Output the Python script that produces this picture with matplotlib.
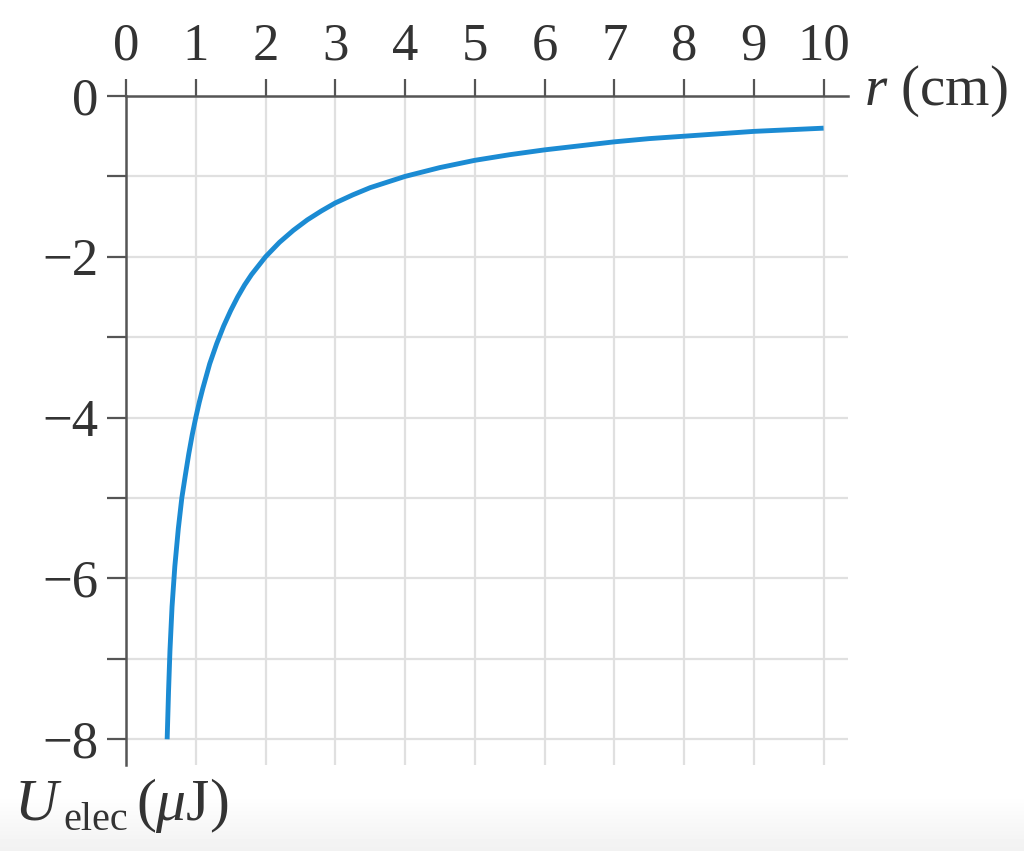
import numpy as np
import matplotlib
matplotlib.use("Agg")
import matplotlib.pyplot as plt

# Data
r_cm = [0.59, 0.61, 0.63, 0.66, 0.70, 0.75, 0.80, 0.85, 0.90, 0.95, 1.00, 1.05, 1.10,
        1.20, 1.30, 1.40, 1.50, 1.60, 1.70, 1.80, 1.90, 2.00, 2.20, 2.40, 2.60, 2.80,
        3.00, 3.25, 3.50, 3.75, 4.00, 4.50, 5.00, 5.50, 6.00, 6.50, 7.00, 7.50, 8.00,
        8.50, 9.00, 9.50, 10.00]
u_elec = [-8.00, -7.40, -6.90, -6.35, -5.85, -5.38, -5.00, -4.72, -4.45, -4.21, -4.00, -3.81, -3.64,
          -3.33, -3.08, -2.86, -2.67, -2.50, -2.35, -2.22, -2.11, -2.00, -1.82, -1.67, -1.54, -1.43,
          -1.33, -1.23, -1.14, -1.07, -1.00, -0.89, -0.80, -0.73, -0.67, -0.62, -0.57, -0.53, -0.50,
          -0.47, -0.44, -0.42, -0.40]
x_ticks = [0, 1, 2, 3, 4, 5, 6, 7, 8, 9, 10]
y_ticks = [0, -1, -2, -3, -4, -5, -6, -7, -8]
y_labels = ["0", "", "\u22122", "", "\u22124", "", "\u22126", "", "\u22128"]

plt.rcParams['font.family'] = ['Liberation Serif', 'DejaVu Serif']
plt.rcParams['mathtext.fontset'] = 'custom'
plt.rcParams['mathtext.rm'] = 'Liberation Serif'
plt.rcParams['mathtext.it'] = 'Liberation Serif:italic'

W, H = 1024, 851
fig = plt.figure(figsize=(W / 100, H / 100), dpi=100)

# bottom gray gradient band
bg = fig.add_axes([0, 0, 1, 1], zorder=-10)
grad = np.ones((H, 1))
start = 795
for i in range(start, H):
    t = (i - start) / (H - start)
    grad[i, 0] = 1.0 - 0.055 * t
bg.imshow(grad, aspect='auto', cmap='gray', vmin=0, vmax=1, extent=[0, 1, 0, 1], origin='upper')
bg.axis('off')

left, right, top, bottom = 126, 848, 96, 765
ax = fig.add_axes([left / W, 1 - bottom / H, (right - left) / W, (bottom - top) / H])
ax.patch.set_alpha(0)
ax.set_xlim(0, 10.35)
ax.set_ylim(-8.32, 0)

ax.plot(r_cm, u_elec, color='#1b8bd3', lw=3.5, solid_capstyle='butt',
        solid_joinstyle='round', zorder=3)

ax.set_xticks(x_ticks)
ax.set_yticks(y_ticks)
ax.set_yticklabels(y_labels)
ax.grid(True, color='#e0e0e0', lw=1.6, zorder=0)
ax.set_axisbelow(True)

for s in ['right', 'bottom']:
    ax.spines[s].set_visible(False)
for s in ['top', 'left']:
    ax.spines[s].set_color('#555555')
    ax.spines[s].set_linewidth(1.8)

ax.xaxis.set_ticks_position('top')
ax.xaxis.set_label_position('top')
ax.tick_params(axis='x', direction='out', length=12, width=1.6, color='#555555',
               labelsize=38, pad=6, labelcolor='#333333')
ax.tick_params(axis='y', direction='out', length=14, width=1.6, color='#555555',
               labelsize=38, pad=6, labelcolor='#333333')

def px(x, y):
    return x / W, 1 - y / H

tc = '#333333'
fig.text(*px(864, 105), r"$r$ (cm)", fontsize=41, color=tc, ha='left', va='baseline')
fig.text(*px(14, 820), r"$U$", fontsize=43, color=tc, ha='left', va='baseline')
fig.text(*px(63, 830), "elec", fontsize=29, color=tc, ha='left', va='baseline')
fig.text(*px(136, 820), r"($\mu$J)", fontsize=43, color=tc, ha='left', va='baseline')

fig.savefig("out.png", dpi=100)
